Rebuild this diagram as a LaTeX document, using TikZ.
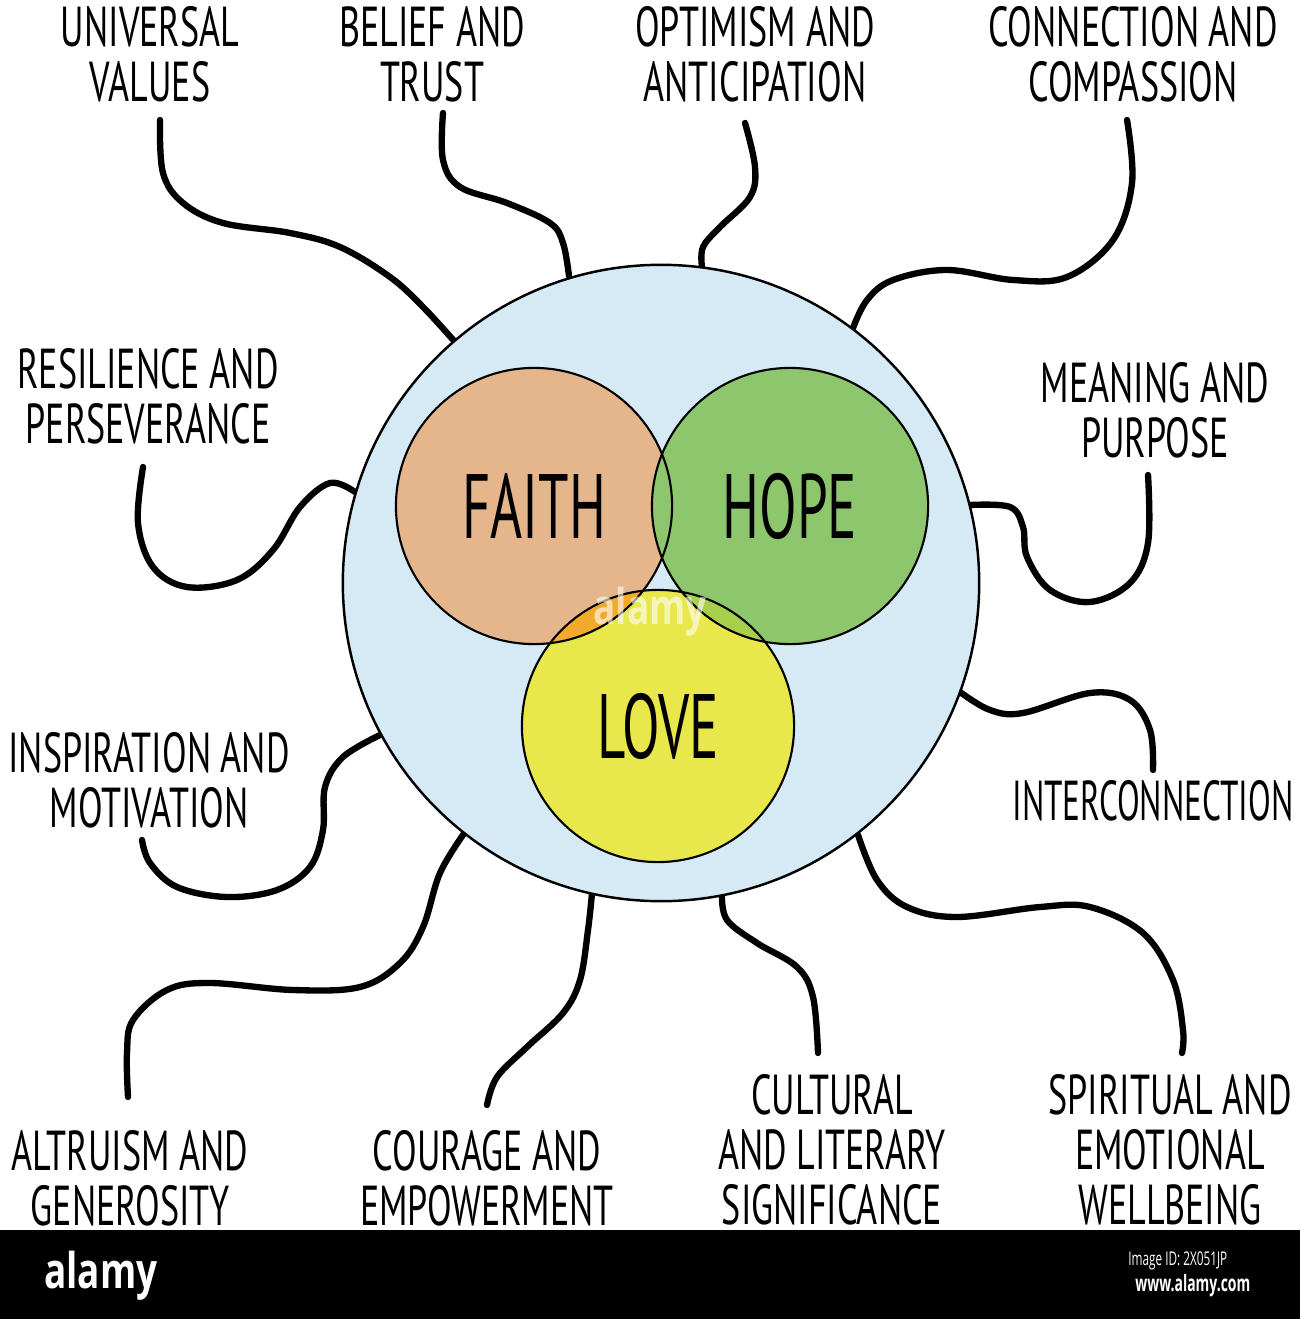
\documentclass[tikz,border=0pt]{standalone}
\usepackage{fontspec}
\setmainfont{PT Sans}
\newfontfamily\handfont{PT Sans}[FakeStretch=0.64]
\newfontfamily\handnarrow{PT Sans}[FakeStretch=0.59]
\newfontfamily\bigfont{PT Sans}[FakeStretch=0.6]
\newfontfamily\wmfont{Open Sans}[FakeStretch=0.75]
\newfontfamily\wmsmall{Open Sans}[FakeStretch=0.62]
\definecolor{outerblue}{HTML}{D5EAF5}
\definecolor{faithc}{HTML}{E5B68B}
\definecolor{hopec}{HTML}{8DC66C}
\definecolor{lovec}{HTML}{E8E74B}
\definecolor{flc}{HTML}{F2AA2D}
\definecolor{hlc}{HTML}{A7CF4C}
\begin{document}
\begin{tikzpicture}[x=0.01cm,y=-0.01cm,
  lbl/.style={font=\handfont\fontsize{16}{15.6}\selectfont, align=center, inner sep=0pt},
  big/.style={font=\bigfont\fontsize{26}{26}\selectfont},
  conn/.style={line width=1.8pt, line cap=round, line join=round},
  ring/.style={circle, draw=black, line width=0.6pt, inner sep=0pt}]
\useasboundingbox (0,0) rectangle (1300,1319);
\fill[white] (0,0) rectangle (1300,1319);

% labels
\node[lbl] (t1) at (150,54) {UNIVERSAL\\VALUES};
\node[lbl] (t2) at (432,54) {BELIEF AND\\TRUST};
\node[lbl] (t3) at (755,54) {OPTIMISM AND\\ANTICIPATION};
\node[lbl] (t4) at (1133,54) {CONNECTION AND\\COMPASSION};
\node[lbl] (t5) at (148,396) {RESILIENCE AND\\PERSEVERANCE};
\node[lbl] (t6) at (1155,410) {MEANING AND\\PURPOSE};
\node[lbl] (t7) at (149,780) {INSPIRATION AND\\MOTIVATION};
\node[lbl, font=\handnarrow\fontsize{16}{15.6}\selectfont] (t8) at (1153,801) {INTERCONNECTION};
\node[lbl] (t9) at (130,1178) {ALTRUISM AND\\GENEROSITY};
\node[lbl] (t10) at (487,1178) {COURAGE AND\\EMPOWERMENT};
\node[lbl] (t11) at (832,1150) {CULTURAL\\AND LITERARY\\SIGNIFICANCE};
\node[lbl] (t12) at (1170,1150) {SPIRITUAL AND\\EMOTIONAL\\WELLBEING};

% connector ends
\coordinate (l1) at (160,120);   \coordinate (e1) at (455,342);
\coordinate (l2) at (443,113);   \coordinate (e2) at (569,276);
\coordinate (l3) at (745,123);   \coordinate (e3) at (702,267);
\coordinate (l4) at (1127,120);  \coordinate (e4) at (853,328);
\coordinate (l5) at (143,467);   \coordinate (e5) at (355,492);
\coordinate (l6) at (1148,475);  \coordinate (e6) at (970,505);
\coordinate (l7) at (142,840);   \coordinate (e7) at (380,735);
\coordinate (l8) at (1153,770);  \coordinate (e8) at (960,692);
\coordinate (l9) at (128,1097);  \coordinate (e9) at (465,832);
\coordinate (l10) at (487,1105); \coordinate (e10) at (592,893);
\coordinate (l11) at (818,1053); \coordinate (e11) at (722,895);
\coordinate (l12) at (1182,1053);\coordinate (e12) at (858,835);

\draw[conn] plot[smooth, tension=0.6] coordinates {(l1) (163,173) (183,203) (223,223) (290,233) (340,247) (390,277) (423,307) (e1)};
\draw[conn] plot[smooth, tension=0.6] coordinates {(l2) (443,160) (460,187) (507,203) (550,223) (563,243) (e2)};
\draw[conn] plot[smooth, tension=0.6] coordinates {(l3) (755,167) (750,197) (720,227) (703,247) (e3)};
\draw[conn] plot[smooth, tension=0.6] coordinates {(l4) (1132,183) (1113,240) (1067,277) (1013,280) (947,270) (893,280) (867,300) (e4)};
\draw[conn] plot[smooth, tension=0.6] coordinates {(l5) (138,523) (153,567) (187,587) (237,580) (273,550) (300,507) (330,483) (e5)};
\draw[conn] plot[smooth, tension=0.6] coordinates {(l6) (1148,543) (1130,583) (1090,602) (1050,590) (1027,557) (1023,527) (1010,507) (e6)};
\draw[conn] plot[smooth, tension=0.6] coordinates {(l7) (150,863) (177,887) (227,897) (277,890) (310,867) (323,830) (325,787) (343,757) (e7)};
\draw[conn] plot[smooth, tension=0.6] coordinates {(l8) (1150,730) (1130,700) (1090,693) (1023,713) (990,710) (e8)};
\draw[conn] plot[smooth, tension=0.6] coordinates {(l9) (127,1053) (133,1020) (167,990) (210,983) (293,990) (360,987) (400,963) (423,927) (440,873) (e9)};
\draw[conn] plot[smooth, tension=0.6] coordinates {(l10) (497,1077) (527,1047) (563,1013) (580,980) (588,930) (e10)};
\draw[conn] plot[smooth, tension=0.6] coordinates {(l11) (813,997) (797,967) (757,943) (727,920) (e11)};
\draw[conn] plot[smooth, tension=0.6] coordinates {(l12) (1183,1030) (1173,980) (1143,933) (1090,907) (1040,907) (957,917) (907,907) (877,880) (e12)};

% core circle
\node[circle, draw=black, line width=0.7pt, fill=outerblue, minimum size=6.36cm, inner sep=0pt] (core) at (661,583) {};

% fills
\fill[faithc] (534,506) circle (138);
\fill[hopec] (790,506) circle (138);
\fill[lovec] (658,726) circle (136);
\begin{scope}
  \clip (534,506) circle (138);
  \fill[flc] (658,726) circle (136);
\end{scope}
\begin{scope}
  \clip (790,506) circle (138);
  \fill[hlc] (658,726) circle (136);
\end{scope}

% outlines and titles
\node[ring, minimum size=2.76cm, big] (faith) at (534,506) {FAITH};
\node[ring, minimum size=2.76cm, big] (hope) at (790,506) {HOPE};
\node[ring, minimum size=2.72cm, big] (love) at (658,726) {LOVE};

% watermark
\node[font=\wmfont\bfseries\fontsize{14}{14}\selectfont, text=white, opacity=0.6, inner sep=0pt] (wm) at (650,612) {alamy};
\fill[black] (0,1230) rectangle (1300,1319);
\node[font=\wmfont\bfseries\fontsize{14}{14}\selectfont, text=white, inner sep=0pt] (brand) at (101,1276) {alamy};
\node[font=\wmsmall\fontsize{5.4}{6}\selectfont, text=white, inner sep=0pt, anchor=east] (imgid) at (1228,1261) {Image ID: 2X051JP};
\node[font=\wmsmall\bfseries\fontsize{6.4}{7}\selectfont, text=white, inner sep=0pt, anchor=east] (url) at (1251,1286) {www.alamy.com};
\end{tikzpicture}
\end{document}
